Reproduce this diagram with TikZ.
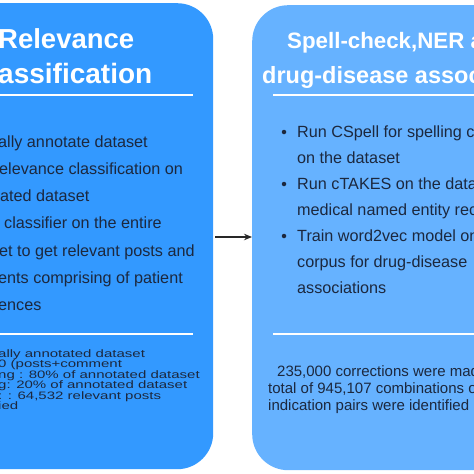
\documentclass[tikz,border=0pt]{standalone}
\usepackage{fontspec}
\setmainfont{Liberation Sans}
\usetikzlibrary{arrows.meta}
\definecolor{boxL}{RGB}{51,153,255}
\definecolor{boxR}{RGB}{102,178,255}
\definecolor{txt}{RGB}{28,40,62}
\definecolor{arr}{RGB}{40,40,40}
\tikzset{
  panel/.style={draw=none, rounded corners=36pt, anchor=north west, inner sep=0pt},
  ttl/.style={anchor=base west, inner sep=0pt, text=white, font=\bfseries},
  body/.style={anchor=base west, inner sep=0pt, text=txt, font=\fontsize{16.2}{19}\selectfont},
  small/.style={anchor=base west, inner sep=0pt, text=txt, font=\fontsize{15}{18}\selectfont},
  rule/.style={draw=white, line width=2pt},
  dot/.style={circle, fill=txt, inner sep=0pt, minimum size=4.5pt},
}
\begin{document}
\begin{tikzpicture}[x=1pt,y=-1pt]
\useasboundingbox (0,0) rectangle (474,474);
% panels
\node[panel, fill=boxL, minimum width=273pt, minimum height=466pt] (L) at (-60,3) {};
\node[panel, fill=boxR, minimum width=300pt, minimum height=465pt] (R) at (252,5) {};
% left title
\node[ttl, font=\bfseries\fontsize{27.5}{32}\selectfont] (lt1) at (-2,48) {Relevance};
\node[ttl, font=\bfseries\fontsize{28}{32}\selectfont] (lt2) at (-2,83) {assification};
\coordinate (lr1a) at (-10,95); \coordinate (lr1b) at (193,95);
\draw[rule] (lr1a) -- (lr1b);
% left body
\node[body] (lb1) at (-2,147) {ally annotate dataset};
\node[body] (lb2) at (-1,174.3) {elevance classification on};
\node[body] (lb3) at (0,201.6) {ated dataset};
\node[body] (lb4) at (4,228.9) {classifier on the entire};
\node[body] (lb5) at (-1,256.2) {et to get relevant posts and};
\node[body] (lb6) at (-2,283.5) {ents comprising of patient};
\node[body] (lb7) at (-2,310.8) {ences};
\coordinate (lr2a) at (-10,334); \coordinate (lr2b) at (193,334);
\draw[rule] (lr2a) -- (lr2b);
% left results (vertically compressed)
\node[small] (ls1) at (-2,357) {\scalebox{1}[0.72]{ally annotated dataset}};
\node[small] (ls2) at (-2,367.5) {\scalebox{1}[0.72]{0 (posts+comment}};
\node[small] (ls3) at (-2,378) {\scalebox{1}[0.72]{ng : 80\% of annotated dataset}};
\node[small] (ls4) at (-2,388.5) {\scalebox{1}[0.72]{g: 20\% of annotated dataset}};
\node[small] (ls5) at (-2,399) {\scalebox{1}[0.72]{: : 64,532 relevant posts}};
\node[small] (ls6) at (-2,409.5) {\scalebox{1}[0.72]{ied}};
% right title
\node[ttl, font=\bfseries\fontsize{22.3}{26}\selectfont] (rt1) at (287,48) {Spell-check,NER and};
\node[ttl, font=\bfseries\fontsize{23.5}{26}\selectfont] (rt2) at (262,83) {drug-disease associations};
\coordinate (rr1a) at (273,95); \coordinate (rr1b) at (480,95);
\draw[rule] (rr1a) -- (rr1b);
% right body
\node[dot] (d1) at (284,132) {};
\node[body] (rb1) at (297,137) {Run CSpell for spelling correction};
\node[body] (rb2) at (297,163) {on the dataset};
\node[dot] (d2) at (284,184) {};
\node[body] (rb3) at (297,189) {Run cTAKES on the dataset for};
\node[body] (rb4) at (297,215) {medical named entity recognition};
\node[dot] (d3) at (284,236) {};
\node[body] (rb5) at (297,241) {Train word2vec model on the};
\node[body] (rb6) at (297,267) {corpus for drug-disease};
\node[body] (rb7) at (297,293) {associations};
\coordinate (rr2a) at (273,334); \coordinate (rr2b) at (480,334);
\draw[rule] (rr2a) -- (rr2b);
% right results
\node[small] (rs1) at (277,376) {235,000 corrections were made and a};
\node[small] (rs2) at (268,393) {total of 945,107 combinations of drug-};
\node[small] (rs3) at (268,410) {indication pairs were identified};
% arrow
\coordinate (a1) at (L.east |- 0,237);
\coordinate (a2) at (R.west |- 0,237);
\draw[arr, line width=1.2pt, -{Stealth[length=8pt,width=6.5pt]}, shorten <=2pt] (a1) -- (a2);
\end{tikzpicture}
\end{document}
